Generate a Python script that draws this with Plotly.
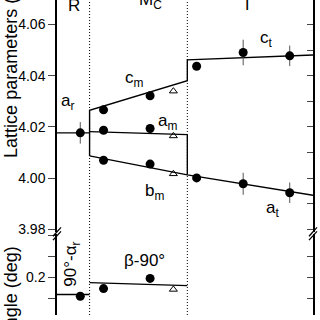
import plotly.graph_objects as go

# ---------------- data ----------------
# x: arbitrary control parameter (axis cropped in reference)
x_r = [0]
a_r = [4.0177]; a_r_err = [0.0042]
x_m = [1, 3]
c_m = [4.0267, 4.0322]
a_m = [4.0187, 4.0194]
b_m = [4.0070, 4.0055]
x_m_tri = [4]
c_m_tri = [4.0340]
a_m_tri = [4.0165]
b_m_tri = [4.0017]
x_t = [5, 7, 9]
c_t = [4.0437, 4.0491, 4.0478]; c_t_err = [0, 0.005, 0.004]
a_t = [4.0001, 3.9978, 3.9943]; a_t_err = [0, 0.0043, 0.004]

# angles
x_ang_r = [0]; ang_r = [0.156]
x_ang_m = [1, 3]; ang_m = [0.174, 0.198]
x_ang_tri = [4]; ang_tri = [0.172]

# phase boundaries
bound = [0.4, 4.6]

# fitted guide lines
fit_R_x = [-1, 0.4]; fit_R_y = [4.0177, 4.0177]
fit_top_x = [0.4, 0.4, 4.6, 4.6, 10]; fit_top_y = [4.0087, 4.0265, 4.0381, 4.0462, 4.0481]
fit_am_x = [0.4, 4.6, 4.6]; fit_am_y = [4.0182, 4.0170, 4.0013]
fit_bot_x = [0.4, 4.6, 10]; fit_bot_y = [4.0087, 4.0013, 3.9933]
fit_angR_x = [-1, 0.4]; fit_angR_y = [0.160, 0.160]
fit_angM_x = [0.4, 4.6]; fit_angM_y = [0.188, 0.181]

FONT = "Liberation Sans, Arial, sans-serif"
fig = go.Figure()

def line(x, y, ya="y"):
    fig.add_trace(go.Scatter(x=x, y=y, mode="lines", yaxis=ya,
                             line=dict(color="black", width=1.4), hoverinfo="skip"))

def dots(x, y, ya="y", err=None):
    kw = {}
    if err is not None:
        kw["error_y"] = dict(type="data", array=err, visible=True, width=0,
                             thickness=1, color="#555")
    fig.add_trace(go.Scatter(x=x, y=y, mode="markers", yaxis=ya,
                             marker=dict(color="black", size=9), **kw))

def tris(x, y, ya="y"):
    fig.add_trace(go.Scatter(x=x, y=y, mode="markers", yaxis=ya,
                             marker=dict(symbol="triangle-up-open", color="black",
                                         size=7, line=dict(width=1))))

line(fit_R_x, fit_R_y)
line(fit_top_x, fit_top_y)
line(fit_am_x, fit_am_y)
line(fit_bot_x, fit_bot_y)
line(fit_angR_x, fit_angR_y, "y2")
line(fit_angM_x, fit_angM_y, "y2")

dots(x_r, a_r, err=a_r_err)
dots(x_m, c_m); dots(x_m, a_m); dots(x_m, b_m)
tris(x_m_tri, c_m_tri); tris(x_m_tri, a_m_tri); tris(x_m_tri, b_m_tri)
dots(x_t, c_t, err=c_t_err)
dots(x_t, a_t, err=a_t_err)
dots(x_ang_r, ang_r, "y2")
dots(x_ang_m, ang_m, "y2")
tris(x_ang_tri, ang_tri, "y2")

# dummy traces for right-side axes
fig.add_trace(go.Scatter(x=[None], y=[None], yaxis="y3", showlegend=False))
fig.add_trace(go.Scatter(x=[None], y=[None], yaxis="y4", showlegend=False))

up_rng = [3.97885, 4.0696]
lo_rng = [0.1116, 0.3023]
up_dom = [0.2625, 1]
lo_dom = [0, 0.25625]

tf = dict(family=FONT, size=14, color="black")
fig.update_layout(
    width=320, height=320, margin=dict(l=57, r=7, t=0, b=0),
    paper_bgcolor="white", plot_bgcolor="white", showlegend=False,
    xaxis=dict(range=[-1, 10], showgrid=False, zeroline=False, showticklabels=False,
               ticks="", showline=False),
    yaxis=dict(domain=up_dom, range=up_rng, tickvals=[3.98, 4.00, 4.02, 4.04, 4.06],
               ticktext=["3.98", "4.00", "4.02", "4.04", "4.06"],
               ticks="outside", ticklen=7, tickwidth=1.3, showline=True, linecolor="black",
               linewidth=1.5, showgrid=False, zeroline=False, tickfont=tf),
    yaxis2=dict(domain=lo_dom, range=lo_rng, tickvals=[0.15, 0.2, 0.25, 0.3],
                ticktext=["", "0.2", "", ""],
                ticks="outside", ticklen=7, tickwidth=1.3, showline=True, linecolor="black",
                linewidth=1.5, showgrid=False, zeroline=False, tickfont=tf),
    yaxis3=dict(overlaying="y", side="right", range=up_rng, dtick=0.01, tick0=4.0,
                ticks="inside", ticklen=6, tickwidth=1.3, showline=True, linecolor="black",
                linewidth=1.5, showgrid=False, zeroline=False, showticklabels=False),
    yaxis4=dict(domain=lo_dom, anchor="x", side="right", range=lo_rng, dtick=0.05, tick0=0.1,
                ticks="inside", ticklen=6, tickwidth=1.3, showline=True, linecolor="black",
                linewidth=1.5, showgrid=False, zeroline=False, showticklabels=False,
                overlaying="y2"),
)

# boundary dotted lines
for b in bound:
    fig.add_shape(type="line", xref="x", yref="paper", x0=b, x1=b, y0=0, y1=1,
                  line=dict(color="black", width=1, dash="1px,2px"), layer="below")

# axis break marks
def px2paper(px, py):
    return (px - 57) / 256, 1 - py / 320

for ax in (57, 313):
    for dy in (0, 4):
        x0, y0 = px2paper(ax - 4, 240 + dy)
        x1, y1 = px2paper(ax + 4, 231 + dy)
        fig.add_shape(type="line", xref="paper", yref="paper", x0=x0, y0=y0, x1=x1, y1=y1,
                      line=dict(color="black", width=1.3))

lf = dict(family=FONT, size=17, color="black")
def lab(text, x, y, ya="y", **kw):
    fig.add_annotation(text=text, x=x, y=y, xref="x", yref=ya, showarrow=False,
                       xanchor="center", yanchor="middle", font=lf, **kw)

lab("a<sub>r</sub>", -0.57, 4.0296)
lab("c<sub>m</sub>", 2.35, 4.0388)
lab("a<sub>m</sub>", 3.73, 4.0219)
lab("b<sub>m</sub>", 3.21, 3.9946)
lab("c<sub>t</sub>", 8.02, 4.0542)
lab("a<sub>t</sub>", 8.24, 3.9881)
lab("β-90°", 2.78, 0.2395, "y2")
lab("90°-α<sub>r</sub>", -0.36, 0.2326, "y2", textangle=-90)

for t, xv, yb in (("R", -0.27, 17), ("M<sub>C</sub>", 3.0, 14), ("T", 7.17, 16)):
    fig.add_annotation(text=t, x=xv, y=1 - yb / 320, xref="x", yref="paper",
                       xanchor="center", yanchor="bottom", showarrow=False, font=lf)

fig.add_annotation(text="Lattice parameters (Å)", x=(11 - 57) / 256, y=1 - 70 / 320,
                   xref="paper", yref="paper", textangle=-90, showarrow=False,
                   xanchor="center", yanchor="middle",
                   font=dict(family=FONT, size=18, color="black"))
fig.add_annotation(text="Angle (deg)", x=(11 - 57) / 256, y=1 - 298 / 320,
                   xref="paper", yref="paper", textangle=-90, showarrow=False,
                   xanchor="center", yanchor="middle",
                   font=dict(family=FONT, size=18, color="black"))

fig.write_html("out.html")
